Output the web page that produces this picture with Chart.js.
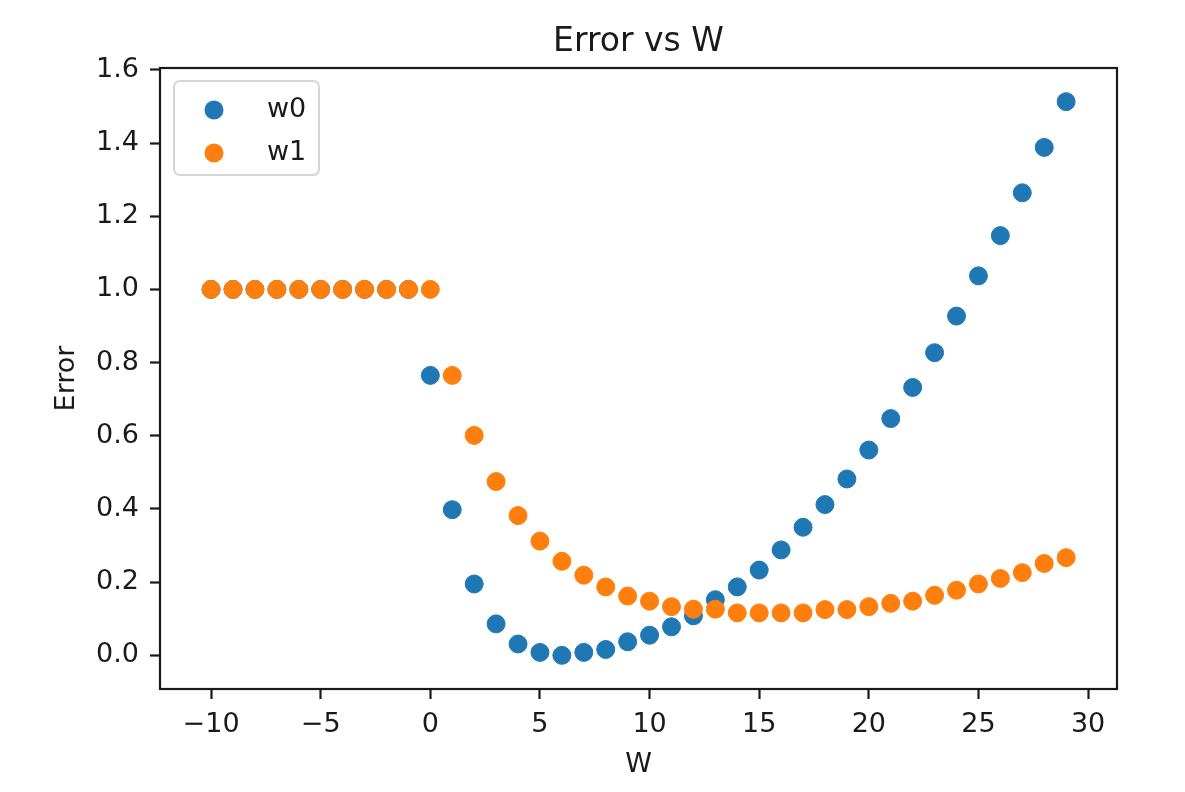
<!DOCTYPE html>
<html>
<head>
<meta charset="utf-8">
<title>Error vs W</title>
<script src="https://cdn.jsdelivr.net/npm/chart.js@4.4.1/dist/chart.umd.min.js"></script>
<style>
  html, body { margin: 0; padding: 0; background: #fff; }
  #wrap { width: 1185px; height: 792px; }
</style>
</head>
<body>
<div id="wrap"><canvas id="errChart" width="1185" height="792"></canvas></div>
<script>
// values
const wValues = [-10, -9, -8, -7, -6, -5, -4, -3, -2, -1, 0, 1, 2, 3, 4, 5, 6, 7, 8, 9,
                 10, 11, 12, 13, 14, 15, 16, 17, 18, 19, 20, 21, 22, 23, 24, 25, 26, 27, 28, 29];
const w0Error = [1.0, 1.0, 1.0, 1.0, 1.0, 1.0, 1.0, 1.0, 1.0, 1.0,
                 0.765, 0.398, 0.195, 0.086, 0.031, 0.008, 0.0, 0.008, 0.016, 0.037,
                 0.055, 0.078, 0.108, 0.152, 0.187, 0.233, 0.288, 0.350, 0.412, 0.482,
                 0.561, 0.647, 0.732, 0.827, 0.927, 1.037, 1.147, 1.264, 1.388, 1.513];
const w1Error = [1.0, 1.0, 1.0, 1.0, 1.0, 1.0, 1.0, 1.0, 1.0, 1.0,
                 1.0, 0.765, 0.601, 0.475, 0.382, 0.312, 0.257, 0.219, 0.187, 0.162,
                 0.148, 0.133, 0.126, 0.126, 0.116, 0.116, 0.116, 0.116, 0.125, 0.125,
                 0.133, 0.142, 0.148, 0.164, 0.178, 0.195, 0.210, 0.226, 0.251, 0.267];
const xTicks = [-10, -5, 0, 5, 10, 15, 20, 25, 30];
const xTickLabels = ['\u221210', '\u22125', '0', '5', '10', '15', '20', '25', '30'];
const yTicks = [0, 0.2, 0.4, 0.6, 0.8, 1.0, 1.2, 1.4, 1.6];
const yTickLabels = ['0.0', '0.2', '0.4', '0.6', '0.8', '1.0', '1.2', '1.4', '1.6'];

const FONT = 'DejaVu Sans';
const INK = '#1a1a1a';

function toPoints(xs, ys) {
    return xs.map((x, i) => ({x: x, y: ys[i]}));
}

// black box round the plot, like the matplotlib spines
const framePlugin = {
    id: 'frame',
    afterDatasetsDraw(chart) {
        const a = chart.chartArea;
        const ctx = chart.ctx;
        ctx.save();
        ctx.strokeStyle = INK;
        ctx.lineWidth = 2.2;
        ctx.strokeRect(a.left, a.top, a.right - a.left, a.bottom - a.top);
        ctx.restore();
    }
};

// legend box in the upper left corner of the plot
const boxLegend = {
    id: 'boxLegend',
    afterDraw(chart) {
        const a = chart.chartArea;
        const ctx = chart.ctx;
        const x0 = a.left + 14, y0 = a.top + 13, w = 145, h = 94, r = 6;
        ctx.save();
        ctx.beginPath();
        ctx.roundRect(x0, y0, w, h, r);
        ctx.fillStyle = 'rgba(255,255,255,0.8)';
        ctx.fill();
        ctx.strokeStyle = '#d6d6d6';
        ctx.lineWidth = 2;
        ctx.stroke();
        chart.data.datasets.forEach((ds, i) => {
            const cy = y0 + 29 + i * 43;
            ctx.beginPath();
            ctx.arc(x0 + 40, cy, 9.5, 0, Math.PI * 2);
            ctx.fillStyle = ds.backgroundColor;
            ctx.fill();
            ctx.fillStyle = INK;
            ctx.font = '27px "' + FONT + '"';
            ctx.textAlign = 'left';
            ctx.textBaseline = 'alphabetic';
            ctx.fillText(ds.label, x0 + 93, cy + 7);
        });
        ctx.restore();
    }
};

const ctx = document.getElementById('errChart').getContext('2d');
const errChart = new Chart(ctx, {
    type: 'scatter',
    data: {
        datasets: [
            {
                label: 'w0',
                data: toPoints(wValues, w0Error),
                backgroundColor: '#1f77b4',
                borderColor: '#1f77b4',
                borderWidth: 1,
                pointRadius: 9,
                pointHoverRadius: 9,
                order: 1
            },
            {
                label: 'w1',
                data: toPoints(wValues, w1Error),
                backgroundColor: '#ff7f0e',
                borderColor: '#ff7f0e',
                borderWidth: 1,
                pointRadius: 9,
                pointHoverRadius: 9,
                order: 0
            }
        ]
    },
    options: {
        responsive: false,
        animation: false,
        layout: {
            padding: {left: 0, right: 68, top: 0, bottom: 0}
        },
        scales: {
            x: {
                type: 'linear',
                min: -12.33,
                max: 31.32,
                afterBuildTicks: (scale) => { scale.ticks = xTicks.map(v => ({value: v})); },
                afterFit: (scale) => { scale.height = 103; },
                ticks: {
                    color: INK,
                    font: {family: FONT, size: 27},
                    padding: 10,
                    maxRotation: 0,
                    autoSkip: false,
                    callback: (value, index) => xTickLabels[index]
                },
                grid: {
                    drawOnChartArea: false,
                    drawTicks: true,
                    tickLength: 10,
                    tickWidth: 2.2,
                    tickColor: INK
                },
                border: {display: false},
                title: {
                    display: true,
                    text: 'W',
                    color: INK,
                    font: {family: FONT, size: 27},
                    padding: {top: 0, bottom: 11}
                }
            },
            y: {
                type: 'linear',
                min: -0.092,
                max: 1.605,
                afterBuildTicks: (scale) => { scale.ticks = yTicks.map(v => ({value: v})); },
                afterFit: (scale) => { scale.width = 160; },
                ticks: {
                    color: INK,
                    font: {family: FONT, size: 27},
                    padding: 11,
                    autoSkip: false,
                    callback: (value, index) => yTickLabels[index]
                },
                grid: {
                    drawOnChartArea: false,
                    drawTicks: true,
                    tickLength: 10,
                    tickWidth: 2.2,
                    tickColor: INK
                },
                border: {display: false},
                title: {
                    display: true,
                    text: 'Error',
                    color: INK,
                    font: {family: FONT, size: 27},
                    padding: {top: 51, bottom: 0}
                }
            }
        },
        plugins: {
            legend: {display: false},
            tooltip: {enabled: false},
            title: {
                display: true,
                text: 'Error vs W',
                fullSize: false,
                color: INK,
                font: {family: FONT, size: 33, weight: 'normal'},
                padding: {top: 23, bottom: 5.4}
            }
        }
    },
    plugins: [framePlugin, boxLegend]
});
</script>
</body>
</html>
